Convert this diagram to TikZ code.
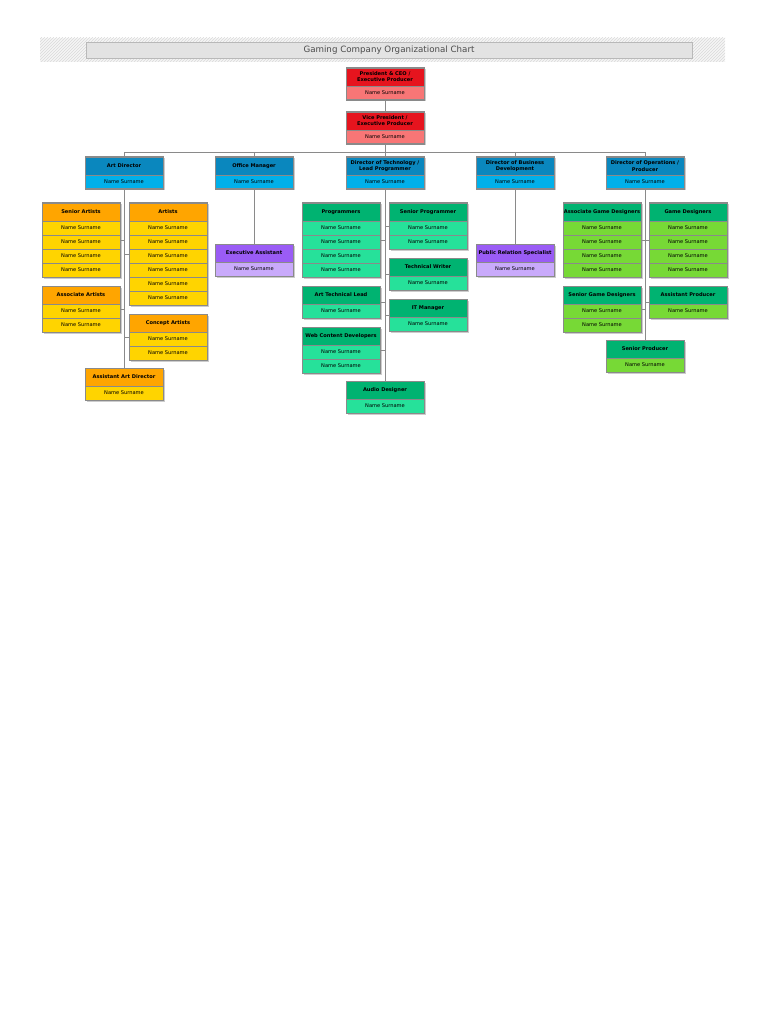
\documentclass[tikz,border=0pt]{standalone}
\usepackage{fontspec}
\setmainfont{DejaVu Sans}
\usetikzlibrary{patterns}
\definecolor{redH}{HTML}{E6141E}
\definecolor{redR}{HTML}{F87676}
\definecolor{blueH}{HTML}{0A87BE}
\definecolor{blueR}{HTML}{00B0EA}
\definecolor{orgH}{HTML}{FFA500}
\definecolor{yelR}{HTML}{FFD400}
\definecolor{purH}{HTML}{9A5CF5}
\definecolor{purR}{HTML}{C9AAFB}
\definecolor{grnH}{HTML}{00B371}
\definecolor{mintR}{HTML}{26E19A}
\definecolor{limeR}{HTML}{77D936}
\definecolor{edge}{HTML}{8A8A8A}
\tikzset{
  outerbox/.style={rectangle, minimum width=78pt, inner sep=0pt, outer sep=0pt},
  headbox/.style={rectangle, draw=edge, line width=0.5pt, minimum width=78pt, minimum height=18pt, inner sep=0pt, outer sep=0pt, align=center, font=\fontsize{5.1}{6.2}\selectfont\bfseries},
  rowbox/.style={rectangle, draw=edge, line width=0.5pt, minimum width=78pt, minimum height=14pt, inner sep=0pt, outer sep=0pt, font=\fontsize{5.1}{6.2}\selectfont},
  boxborder/.style={draw=edge, line width=1pt},
  link/.style={draw=edge, line width=0.9pt},
}
\newcommand\orgbox[7]{%
  \pgfmathsetmacro\boxh{18+14*#4}%
  \fill[gray!40] ({#2+1.5},{#3+1.5}) rectangle ++(78,\boxh);
  \node[outerbox, minimum height=\boxh pt, anchor=north west] (#1) at (#2,#3) {};
  \node[headbox, fill=#6, anchor=north west] (#1-h) at (#2,#3) {#5};
  \foreach \i in {1,...,#4} {
    \node[rowbox, fill=#7, anchor=north west] (#1-\i) at (#2,{#3+18+14*(\i-1)}) {Name Surname};
  }
  \draw[boxborder] (#1.north west) rectangle (#1.south east);
}
\begin{document}
\begin{tikzpicture}[x=1pt,y=-1pt]
\useasboundingbox (0,0) rectangle (768,1024);
% banner
\fill[gray!7] (40,38) rectangle (725,62);
\fill[pattern=north east lines, pattern color=gray!30] (40,38) rectangle (725,62);
\node[rectangle, minimum width=606pt, minimum height=16pt, inner sep=0pt, fill=gray!22, draw=gray!55, text=gray!60!black, font=\fontsize{8.7}{10}\selectfont] (title) at (389,50) {Gaming Company Organizational Chart};
\coordinate (bus) at (385,152);
% boxes
\orgbox{pres}{346}{68}{1}{President \& CEO /\\Executive Producer}{redH}{redR}
\orgbox{vp}{346}{112}{1}{Vice President /\\Executive Producer}{redH}{redR}
\orgbox{ad}{85}{157}{1}{Art Director}{blueH}{blueR}
\orgbox{om}{215}{157}{1}{Office Manager}{blueH}{blueR}
\orgbox{dt}{346}{157}{1}{Director of Technology /\\Lead Programmer}{blueH}{blueR}
\orgbox{dbd}{476}{157}{1}{Director of Business\\Development}{blueH}{blueR}
\orgbox{dops}{606}{157}{1}{Director of Operations /\\Producer}{blueH}{blueR}
\orgbox{sa}{42}{203}{4}{Senior Artists}{orgH}{yelR}
\orgbox{ar}{129}{203}{6}{Artists}{orgH}{yelR}
\orgbox{aa}{42}{286}{2}{Associate Artists}{orgH}{yelR}
\orgbox{ca}{129}{314}{2}{Concept Artists}{orgH}{yelR}
\orgbox{aad}{85}{368}{1}{Assistant Art Director}{orgH}{yelR}
\orgbox{ea}{215}{244}{1}{Executive Assistant}{purH}{purR}
\orgbox{prog}{302}{203}{4}{Programmers}{grnH}{mintR}
\orgbox{sp}{389}{203}{2}{Senior Programmer}{grnH}{mintR}
\orgbox{tw}{389}{258}{1}{Technical Writer}{grnH}{mintR}
\orgbox{atl}{302}{286}{1}{Art Technical Lead}{grnH}{mintR}
\orgbox{itm}{389}{299}{1}{IT Manager}{grnH}{mintR}
\orgbox{wcd}{302}{327}{2}{Web Content Developers}{grnH}{mintR}
\orgbox{aud}{346}{381}{1}{Audio Designer}{grnH}{mintR}
\orgbox{prs}{476}{244}{1}{Public Relation Specialist}{purH}{purR}
\orgbox{agd}{563}{203}{4}{Associate Game Designers}{grnH}{limeR}
\orgbox{gd}{649}{203}{4}{Game Designers}{grnH}{limeR}
\orgbox{sgd}{563}{286}{2}{Senior Game Designers}{grnH}{limeR}
\orgbox{ap}{649}{286}{1}{Assistant Producer}{grnH}{limeR}
\orgbox{spr}{606}{340}{1}{Senior Producer}{grnH}{limeR}
% links
\draw[link] (pres.south) -- (vp.north);
\draw[link] (vp.south) -- (dt.north);
\draw[link] (ad.north) -- (ad.north |- bus) -- (dops.north |- bus) -- (dops.north);
\draw[link] (om.north) -- (om.north |- bus);
\draw[link] (dbd.north) -- (dbd.north |- bus);
\draw[link] (ad.south) -- (aad.north);
\draw[link] (sa.east) -- (sa.east -| ad.south);
\draw[link] (ar.west) -- (ar.west -| ad.south);
\draw[link] (aa.east) -- (aa.east -| ad.south);
\draw[link] (ca.west) -- (ca.west -| ad.south);
\draw[link] (om.south) -- (ea.north);
\draw[link] (dt.south) -- (aud.north);
\draw[link] (prog.east) -- (prog.east -| dt.south);
\draw[link] (sp.west) -- (sp.west -| dt.south);
\draw[link] (tw.west) -- (tw.west -| dt.south);
\draw[link] (atl.east) -- (atl.east -| dt.south);
\draw[link] (itm.west) -- (itm.west -| dt.south);
\draw[link] (wcd.east) -- (wcd.east -| dt.south);
\draw[link] (dbd.south) -- (prs.north);
\draw[link] (dops.south) -- (spr.north);
\draw[link] (agd.east) -- (agd.east -| dops.south);
\draw[link] (gd.west) -- (gd.west -| dops.south);
\draw[link] (sgd.east) -- (sgd.east -| dops.south);
\draw[link] (ap.west) -- (ap.west -| dops.south);
\end{tikzpicture}
\end{document}
